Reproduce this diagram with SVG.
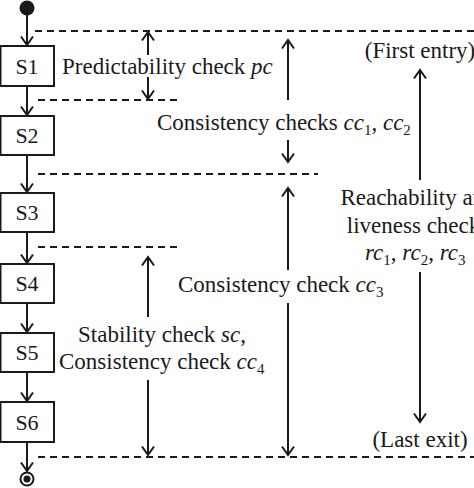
<svg xmlns="http://www.w3.org/2000/svg" width="474" height="488" viewBox="0 0 474 488">
<style>
.box{fill:#fff;stroke:#1a1a1a;stroke-width:2}
.ln{stroke:#1a1a1a;stroke-width:2;fill:none}
.dash{stroke:#1a1a1a;stroke-width:2;stroke-dasharray:7 5;fill:none}
text{font-family:"Liberation Serif","Times New Roman",serif;font-size:23px;fill:#1a1a1a}
.lbl{font-size:22px;text-anchor:middle}
.it{font-style:italic}
.sub{font-size:15px}
</style>
<defs>
<marker id="ah" markerUnits="userSpaceOnUse" markerWidth="20" markerHeight="20" refX="10" refY="10" orient="auto">
<path d="M1.5,4 L10,10 L1.5,16" fill="none" stroke="#1a1a1a" stroke-width="2"/>
</marker>
</defs>
<rect width="474" height="488" fill="#fff"/>
<g id="start"><circle cx="27" cy="8" r="7.5" fill="#1a1a1a"/></g>
<g id="end"><circle cx="27" cy="479" r="6.5" fill="#fff" stroke="#1a1a1a" stroke-width="2"/><circle cx="27" cy="479" r="3.5" fill="#1a1a1a"/></g>
<g id="s1"><rect class="box" x="0.5" y="46" width="53.5" height="40"/><text class="lbl" x="27" y="74">S1</text></g>
<g id="s2"><rect class="box" x="0.5" y="116" width="53.5" height="39"/><text class="lbl" x="27" y="143">S2</text></g>
<g id="s3"><rect class="box" x="0.5" y="193" width="53.5" height="39"/><text class="lbl" x="27" y="220">S3</text></g>
<g id="s4"><rect class="box" x="0.5" y="264" width="53.5" height="39"/><text class="lbl" x="27" y="291">S4</text></g>
<g id="s5"><rect class="box" x="0.5" y="333" width="53.5" height="39"/><text class="lbl" x="27" y="360">S5</text></g>
<g id="s6"><rect class="box" x="0.5" y="402" width="53.5" height="40"/><text class="lbl" x="27" y="430">S6</text></g>
<g id="connectors">
<line class="ln" x1="27" y1="14" x2="27" y2="45" marker-end="url(#ah)"/>
<line class="ln" x1="27" y1="86" x2="27" y2="115" marker-end="url(#ah)"/>
<line class="ln" x1="27" y1="155" x2="27" y2="192" marker-end="url(#ah)"/>
<line class="ln" x1="27" y1="232" x2="27" y2="263" marker-end="url(#ah)"/>
<line class="ln" x1="27" y1="303" x2="27" y2="332" marker-end="url(#ah)"/>
<line class="ln" x1="27" y1="372" x2="27" y2="401" marker-end="url(#ah)"/>
<line class="ln" x1="27" y1="442" x2="27" y2="471" marker-end="url(#ah)"/>
</g>
<g id="boundaries">
<line class="dash" x1="35" y1="31" x2="474" y2="31"/>
<line class="dash" x1="38" y1="100" x2="180" y2="100"/>
<line class="dash" x1="38" y1="174" x2="318" y2="174"/>
<line class="dash" x1="38" y1="247" x2="180" y2="247"/>
<line class="dash" x1="38" y1="457" x2="474" y2="457"/>
</g>
<g id="check-arrows">
<line class="ln" x1="148" y1="55" x2="148" y2="32" marker-end="url(#ah)"/>
<line class="ln" x1="148" y1="77" x2="148" y2="99" marker-end="url(#ah)"/>
<line class="ln" x1="288" y1="100" x2="288" y2="40" marker-end="url(#ah)"/>
<line class="ln" x1="288" y1="140" x2="288" y2="162" marker-end="url(#ah)"/>
<line class="ln" x1="420" y1="180" x2="420" y2="70" marker-end="url(#ah)"/>
<line class="ln" x1="420" y1="272" x2="420" y2="422" marker-end="url(#ah)"/>
<line class="ln" x1="288" y1="270" x2="288" y2="188" marker-end="url(#ah)"/>
<line class="ln" x1="288" y1="303" x2="288" y2="455" marker-end="url(#ah)"/>
<line class="ln" x1="148" y1="317" x2="148" y2="257" marker-end="url(#ah)"/>
<line class="ln" x1="148" y1="380" x2="148" y2="455" marker-end="url(#ah)"/>
</g>
<g id="labels">
<text x="62" y="74">Predictability check <tspan class="it">pc</tspan></text>
<text x="157" y="130">Consistency checks <tspan class="it">cc</tspan><tspan class="sub" dy="5">1</tspan><tspan dy="-5">, </tspan><tspan class="it">cc</tspan><tspan class="sub" dy="5">2</tspan></text>
<text x="420" y="58" text-anchor="middle">(First entry)</text>
<text x="418" y="205" text-anchor="middle">Reachability and</text>
<text x="418" y="233" text-anchor="middle">liveness checks</text>
<text x="365" y="260"><tspan class="it">rc</tspan><tspan class="sub" dy="5">1</tspan><tspan dy="-5">, </tspan><tspan class="it">rc</tspan><tspan class="sub" dy="5">2</tspan><tspan dy="-5">, </tspan><tspan class="it">rc</tspan><tspan class="sub" dy="5">3</tspan></text>
<text x="178" y="292">Consistency check <tspan class="it">cc</tspan><tspan class="sub" dy="5">3</tspan></text>
<text x="78" y="342">Stability check <tspan class="it">sc</tspan>,</text>
<text x="59" y="369">Consistency check <tspan class="it">cc</tspan><tspan class="sub" dy="5">4</tspan></text>
<text x="420" y="447" text-anchor="middle">(Last exit)</text>
</g>
</svg>
